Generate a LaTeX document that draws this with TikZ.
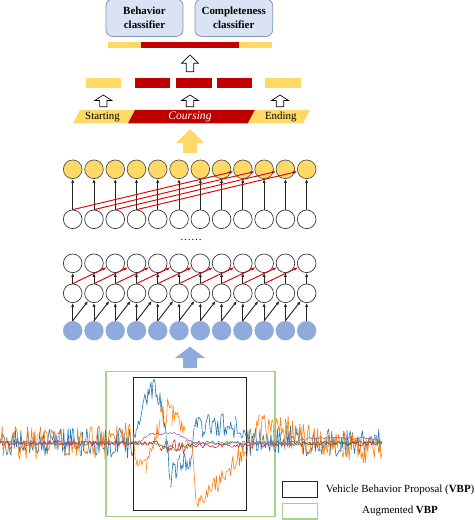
\documentclass[tikz,border=0pt]{standalone}
\usepackage{fontspec}
\setmainfont{Liberation Serif}
\usetikzlibrary{arrows.meta,positioning}
\definecolor{ylw}{HTML}{FFD966}
\definecolor{crim}{HTML}{C00000}
\definecolor{cornf}{HTML}{8FAADC}
\definecolor{clsfill}{HTML}{DAE3F3}
\definecolor{clsdraw}{HTML}{8497B0}
\definecolor{grnbox}{HTML}{A9D18E}
\definecolor{sigblue}{HTML}{1F77B4}
\definecolor{sigorange}{HTML}{FF7F0E}
\definecolor{siggreen}{HTML}{2CA02C}
\definecolor{sigred}{HTML}{D62728}
\definecolor{sigpurple}{HTML}{9467BD}

\tikzset{
  unit/.style={circle,draw=black!80,fill=white,minimum size=14pt,inner sep=0pt,line width=0.5pt},
  inunit/.style={circle,fill=cornf,minimum size=14.5pt,inner sep=0pt},
  outunit/.style={circle,draw=black!70,fill=ylw,minimum size=14pt,inner sep=0pt,line width=0.5pt},
  conn/.style={-{Latex[length=3pt,width=2.4pt]},line width=0.7pt,black!85},
  dil/.style={conn,red!85!black},
  clsbox/.style={rounded corners=5pt,draw=clsdraw,fill=clsfill,line width=0.6pt,
    minimum height=28pt,align=center,inner sep=0pt,font=\bfseries\fontsize{8.2}{9.8}\selectfont},
  lbl/.style={font=\fontsize{8.2}{9.8}\selectfont,inner sep=0pt},
  sig/.style={line width=0.45pt,line join=round},
  legbox/.style={draw,minimum width=26pt,minimum height=11.5pt,inner sep=0pt},
}

% up arrow shape: [style]{x}{bottom}{top}{head half}{shaft half}{head base}
\newcommand{\uparr}[7][]{%
  \draw[#1] ({#2-#6},#3) -- ({#2-#6},#7) -- ({#2-#5},#7) -- (#2,#4)
    -- ({#2+#5},#7) -- ({#2+#6},#7) -- ({#2+#6},#3) -- cycle;}

\begin{document}
\begin{tikzpicture}[x=0.75pt,y=-0.75pt]
  \useasboundingbox (0,0) rectangle (474,520);

  % classifiers
  \node[clsbox,minimum width=57.75pt] (behav) at (144.5,17.75) {Behavior\\classifier};
  \node[clsbox,minimum width=58.3pt] (compl) at (233.8,17.75) {Completeness\\classifier};

  % pooled feature
  \fill[ylw] (107.7,41.7) rectangle (271.7,48.3);
  \fill[crim] (141,41.7) rectangle (239,48.3);
  \uparr[fill=white,line width=0.5pt]{190}{71.7}{55}{8.5}{3.7}{63.3}

  % stage features
  \fill[ylw] (86,77.7) rectangle (120.7,88.3);
  \fill[crim] (135,77.7) rectangle (170,88.3);
  \fill[crim] (176,77.7) rectangle (211.7,88.3);
  \fill[crim] (216.7,77.7) rectangle (252.3,88.3);
  \fill[ylw] (265,77.7) rectangle (300.7,88.3);
  \foreach \ax in {103.3,190,280} {
    \uparr[fill=white,line width=0.5pt]{\ax}{106.7}{95}{8.5}{3.7}{100.5}
  }

  % stages
  \fill[ylw] (73,123.3) -- (128,123.3) -- (135,110) -- (80,110) -- cycle;
  \fill[crim] (128,123.3) -- (248,123.3) -- (255,110) -- (135,110) -- cycle;
  \fill[ylw] (248,123.3) -- (303,123.3) -- (310,110) -- (255,110) -- cycle;
  \node[lbl] (startlab) at (102.5,116.7) {Starting};
  \node[lbl,text=white,font=\itshape\fontsize{8.7}{10}\selectfont] (courslab) at (190,116.7) {Coursing};
  \node[lbl] (endlab) at (280.8,116.7) {Ending};
  \uparr[fill=ylw,draw=none]{190}{153}{129}{14}{7}{143}

  % unit rows
  \foreach \i in {1,...,12} {
    \pgfmathsetmacro\cx{72.7+21.27*(\i-1)}
    \node[inunit] (b\i) at (\cx,330.7) {};
    \node[unit] (p\i) at (\cx,293.3) {};
    \node[unit] (q\i) at (\cx,263.3) {};
    \node[unit] (s\i) at (\cx,219.3) {};
    \node[outunit] (t\i) at (\cx,169.3) {};
  }
  \node[lbl] (gap) at (191,240) {……};

  \foreach \i in {1,...,12} {
    \draw[conn] (b\i) -- (p\i);
    \draw[conn] (p\i) -- (q\i);
    \draw[conn] (s\i) -- (t\i);
  }
  \foreach \i [evaluate=\i as \j using int(\i+1)] in {1,...,11}
    \draw[conn] (b\i.north) -- (p\j);
  \foreach \i [evaluate=\i as \j using int(\i+2)] in {1,...,10}
    \draw[dil] (p\i.north) -- (q\j);
  \foreach \i [evaluate=\i as \j using int(\i+8)] in {1,...,4}
    \draw[dil] (s\i.north) -- (t\j);

  \uparr[fill=cornf,draw=none]{190}{368}{346.7}{15}{7}{358}

  % proposals
  \draw[grnbox,line width=0.9pt] (106,371.7) rectangle (275,516.7);
  \draw[black!85,line width=0.9pt] (133.3,377.3) rectangle (246.7,510.7);

  % signals
  \pgfmathsetseed{11}
  \foreach \xa/\ya/\xb/\yb/\am in {0/0/133/0/15, 133/0/146/-48/6, 146/-48/156/-55/11,
      156/-55/162/-35/12, 162/-35/166/-5/10, 166/-5/170/30/12, 170/30/180/20/17,
      180/20/190/25/13, 190/25/194/-15/8, 194/-15/235/-18/13, 235/-18/247/0/10,
      247/0/285/-5/14, 285/-8/300/-5/16, 300/0/382/0/14} {
    \pgfmathtruncatemacro\ns{((\xb)-(\xa))/1.1+2}
    \draw[sig,sigblue] plot[domain=\xa:\xb,samples=\ns]
      (\x,{443+(\ya)+((\yb)-(\ya))*(\x-(\xa))/((\xb)-(\xa))+\am*rand});
  }
  \foreach \xa/\ya/\xb/\yb/\am in {0/0/105/0/17, 105/-6/133/-8/13, 133/-8/136/20/4,
      136/20/146/22/7, 146/22/152/5/9, 152/5/160/-25/13, 160/-25/172/-32/20,
      172/-30/185/-5/13, 185/-5/192/0/7, 192/0/196/60/4, 196/60/200/58/5,
      200/58/246/5/11, 246/5/260/-15/14, 260/-15/300/-10/17, 300/-5/382/8/15} {
    \pgfmathtruncatemacro\ns{((\xb)-(\xa))/1.1+2}
    \draw[sig,sigorange] plot[domain=\xa:\xb,samples=\ns]
      (\x,{443+(\ya)+((\yb)-(\ya))*(\x-(\xa))/((\xb)-(\xa))+\am*rand});
  }
  \foreach \xa/\ya/\xb/\yb/\am in {0/0/158/0/2, 158/0/165/5/3, 165/5/185/5/3,
      185/5/190/0/3, 190/0/382/0/2} {
    \pgfmathtruncatemacro\ns{((\xb)-(\xa))/1.5+2}
    \draw[sig,siggreen] plot[domain=\xa:\xb,samples=\ns]
      (\x,{443+(\ya)+((\yb)-(\ya))*(\x-(\xa))/((\xb)-(\xa))+\am*rand});
  }
  \foreach \xa/\ya/\xb/\yb/\am in {0/0/160/0/2.5, 160/0/185/3/8, 185/3/382/0/2.5} {
    \pgfmathtruncatemacro\ns{((\xb)-(\xa))/1.5+2}
    \draw[sig,sigred] plot[domain=\xa:\xb,samples=\ns]
      (\x,{443+(\ya)+((\yb)-(\ya))*(\x-(\xa))/((\xb)-(\xa))+\am*rand});
  }
  \foreach \xa/\ya/\xb/\yb/\am in {0/0/137/0/2, 137/0/150/-9/1, 150/-9/175/-10/1,
      175/-10/195/0/1, 195/0/290/0/2, 290/0/310/-5/1.5, 310/-5/370/-5/1.5,
      370/-5/382/0/1.5} {
    \pgfmathtruncatemacro\ns{((\xb)-(\xa))/1.5+2}
    \draw[sig,sigpurple] plot[domain=\xa:\xb,samples=\ns]
      (\x,{443+(\ya)+((\yb)-(\ya))*(\x-(\xa))/((\xb)-(\xa))+\am*rand});
  }

  % legend
  \node[legbox,draw=black!85,line width=0.8pt] (legvbp) at (300,489.5) {};
  \node[legbox,draw=grnbox,line width=0.8pt] (legaug) at (300,511.3) {};
  \node[lbl,right=5.8pt of legvbp] (vbptext) {Vehicle Behavior Proposal (\textbf{VBP})};
  \node[lbl] (augtext) at (400,510.7) {Augmented \textbf{VBP}};
\end{tikzpicture}
\end{document}
